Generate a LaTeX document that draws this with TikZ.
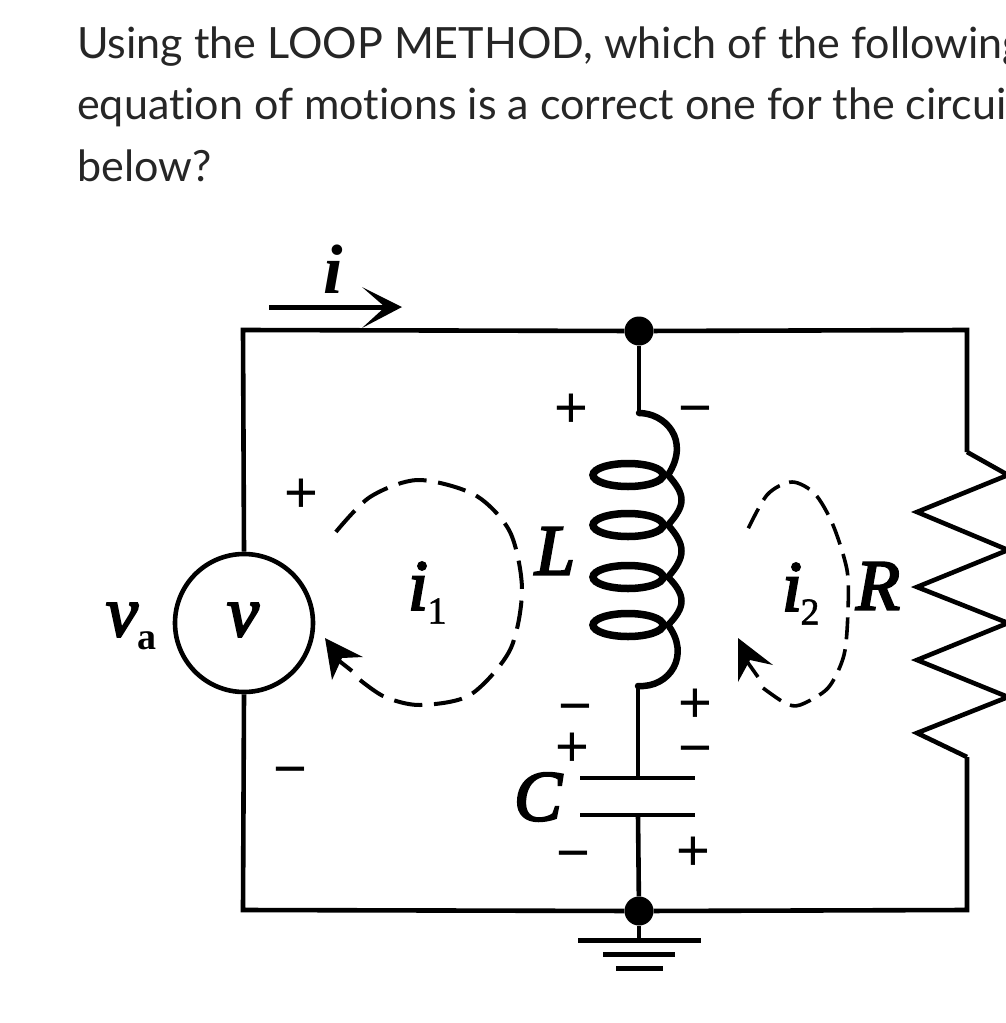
\documentclass[tikz,border=0pt]{standalone}
\usepackage{fontspec}
\setmainfont{Lato}[Ligatures=NoCommon]
\newfontfamily\mathserif[ItalicFeatures={FakeBold=3},UprightFeatures={FakeBold=1.5}]{Liberation Serif}
\newfontfamily\signfont{Liberation Sans}
\newcommand{\fs}[1]{\fontsize{#1}{#1}\selectfont}
\newcommand{\signup}[1]{\raisebox{-0.33em}{#1}}
\tikzset{
  wire/.style={line width=4.6pt,line join=miter},
  coilwire/.style={line width=6.5pt,line cap=round},
  loopdash/.style={line width=4pt,dash pattern=on 28.5pt off 11.7pt},
  loopdashb/.style={line width=3.6pt,dash pattern=on 22pt off 10pt},
  dot/.style={circle,fill=black,minimum size=29pt,inner sep=0pt},
  lbl/.style={inner sep=0pt,font=\mathserif\itshape\fs{72}},
  subl/.style={inner sep=0pt,font=\mathserif\fs{38}},
  sign/.style={inner sep=0pt,text height=0pt,text depth=0pt,font=\signfont\fs{58}},
  qtext/.style={anchor=base west,inner sep=0pt,font=\fs{43.05},text=black!85},
}
\begin{document}
\begin{tikzpicture}[x=1pt,y=-1pt]
\useasboundingbox (0,0) rectangle (1006,1023);
\fill[white] (0,0) rectangle (1006,1023);
\clip (0,0) rectangle (1006,1023);
% question text
\node[qtext] (q1) at (77,58) {Using the LOOP METHOD, which of the following};
\node[qtext] (q2) at (77,119.5) {equation of motions is a correct one for the circuit};
\node[qtext] (q3) at (77,181) {below?};
% points
\node[dot] (jt) at (639,331) {};
\node[dot] (jb) at (639,911) {};
\node[circle,draw,line width=4.6pt,minimum size=138pt,inner sep=0pt] (src) at (244,623) {};
\coordinate (tl) at (243,330);
\coordinate (bl) at (243,910);
\coordinate (tr) at (967,330);
\coordinate (br) at (967,910);
\coordinate (rtop) at (967,452);
\coordinate (rbot) at (967,757);
\coordinate (lt) at (639,413);
\coordinate (lb) at (638,686);
\coordinate (cap1) at (638,778);
\coordinate (cap2) at (638,815);
\coordinate (cap1l) at (580,778);
\coordinate (cap1r) at (695,778);
\coordinate (cap2l) at (580,815);
\coordinate (cap2r) at (695,815);
\coordinate (g1) at (639,940);
% outer wires
\draw[wire] (src.north) -- (tl) -- (jt);
\draw[wire] (src.south) -- (bl) -- (jb);
\draw[wire] (jt) -- (tr) -- (rtop);
\draw[wire] (jb) -- (br) -- (rbot);
% resistor
\draw[wire] (rtop) -- (1008,475) -- (917,512) -- (1008,550) -- (917,587) -- (1008,623) -- (917,660) -- (1008,697) -- (917,733) -- (rbot);
% inductor
\draw[wire] (jt) -- (lt);
\draw[wire] (lb) -- (cap1);
\draw[coilwire] (lt) .. controls (665,413) and (691,440) .. (668,475);
\draw[coilwire] (668,475) .. controls (686,495) and (686,505) .. (668,525);
\draw[coilwire] (668,525) .. controls (686,545) and (686,557) .. (668,577);
\draw[coilwire] (668,577) .. controls (686,595) and (686,607) .. (668,625);
\draw[coilwire] (668,625) .. controls (691,655) and (670,688) .. (lb);
\foreach \yy in {475,525,577,625}{
  \draw[line width=7.5pt] (628,\yy) ellipse [x radius=35,y radius=11.5];
}
% capacitor
\draw[wire] (cap1l) -- (cap1r);
\draw[wire] (cap2l) -- (cap2r);
\draw[wire] (cap2) -- (jb);
% ground
\draw[wire] (jb) -- (g1);
\draw[line width=5pt] (578,940) -- (701,940);
\draw[line width=5pt] (603,954) -- (675,954);
\draw[line width=5pt] (616,968) -- (663,968);
% current arrow
\coordinate (ia) at (269,307);
\coordinate (ib) at (390,307);
\draw[line width=5pt] (ia) -- (ib);
\fill (402,307) -- (362,287) -- (385,307) -- (362,328) -- cycle;
% loop i1
\draw[loopdash] plot[smooth] coordinates {(360,680) (385,697) (420,705) (470,695) (510,650) (522,590) (510,532) (475,495) (418,480) (370,497) (335,533)};
\draw[line width=4pt] (352,671) -- (338,660);
\fill (325,638) -- (363,657) -- (342,658) -- (332,680) -- cycle;
% loop i2
\draw[loopdashb] plot[smooth] coordinates {(763,688) (785,703) (800,705) (828,688) (844,655) (848,610) (847,570) (833,525) (815,494) (792,482) (767,495) (745,535)};
\draw[line width=3.6pt] (758,677) -- (746,660);
\fill (738,638) -- (773,665) -- (750,660) -- (738,682) -- cycle;
% labels
\node[lbl,font=\mathserif\bfseries\itshape\fs{70}] (li) at (333,269) {i};
\node[lbl] (lv) at (243,620) {v};
\node[lbl] (lva) at (122,620) {v};
\node[subl,font=\mathserif\bfseries\fs{38}] (lvas) at (147,641) {a};
\node[lbl] (li1) at (418,586) {i};
\node[subl] (li1s) at (437,611) {1};
\node[lbl] (li2) at (792,587) {i};
\node[subl] (li2s) at (810,612) {2};
\node[lbl] (lL) at (555,551) {L};
\node[lbl] (lR) at (878,586) {R};
\node[lbl] (lC) at (538,797) {C};
% signs
\node[sign] (s1) at (571,408) {\signup{+}};
\node[sign] (s2) at (695,408) {\signup{−}};
\node[sign] (s3) at (301,493) {\signup{+}};
\node[sign] (s4) at (290,769) {\signup{−}};
\node[sign] (s5) at (575,706) {\signup{−}};
\node[sign] (s6) at (695,703) {\signup{+}};
\node[sign] (s7) at (572,747) {\signup{+}};
\node[sign] (s8) at (695,748) {\signup{−}};
\node[sign] (s9) at (573,853) {\signup{−}};
\node[sign] (s10) at (693,851) {\signup{+}};
\end{tikzpicture}
\end{document}
